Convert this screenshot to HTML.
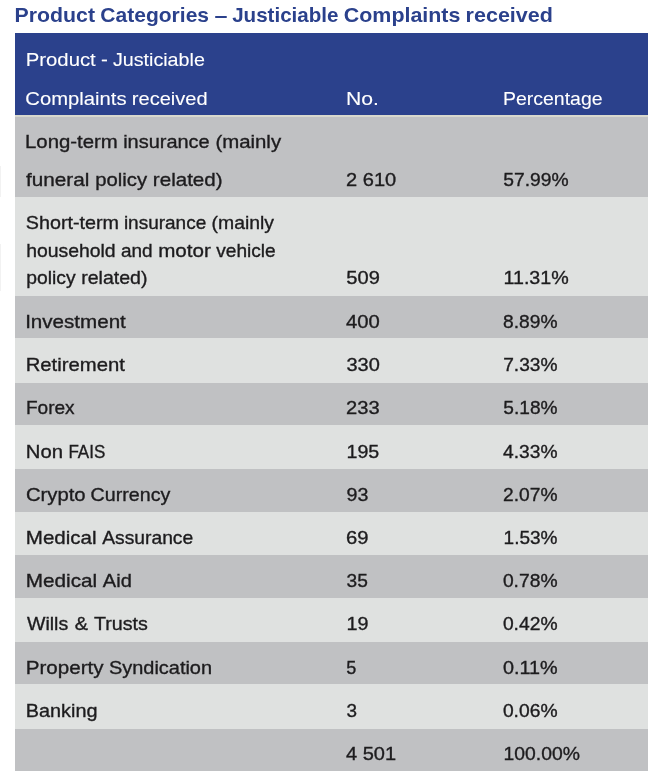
<!DOCTYPE html>
<html lang="en">
<head>
<meta charset="utf-8">
<title>Product Categories – Justiciable Complaints received</title>
<style>
html,body{margin:0;padding:0;background:#fff;}
body{width:660px;height:782px;position:relative;overflow:hidden;font-family:"Liberation Sans",sans-serif;}
p,h1{margin:0;padding:0;font:inherit;}
.t{position:absolute;white-space:nowrap;font-size:18.6px;line-height:21px;height:21px;transform-origin:0 0;color:#1d1c1e;-webkit-text-stroke:0.35px currentColor;}
.w .t{color:#fff;-webkit-text-stroke-width:0.1px;}
.h .t{font-size:21px;line-height:23px;height:23px;font-weight:700;color:#2b418c;-webkit-text-stroke:0;}
body{filter:blur(0.4px);}
.r{position:absolute;left:14.5px;width:633.5px;}
.e{position:absolute;left:0;width:1px;background:#f2f2f2;}
</style>
</head>
<body>
<div class="r" style="top:33.20px;height:737.40px;background:#2b418c"></div>
<div class="r" style="top:115.40px;height:655.20px;background:#c0c1c3"></div>
<div class="r" style="top:196.70px;height:573.90px;background:#dfe1e0"></div>
<div class="r" style="top:295.90px;height:474.70px;background:#c0c1c3"></div>
<div class="r" style="top:338.30px;height:432.30px;background:#dfe1e0"></div>
<div class="r" style="top:382.50px;height:388.10px;background:#c0c1c3"></div>
<div class="r" style="top:425.00px;height:345.60px;background:#dfe1e0"></div>
<div class="r" style="top:468.80px;height:301.80px;background:#c0c1c3"></div>
<div class="r" style="top:511.60px;height:259.00px;background:#dfe1e0"></div>
<div class="r" style="top:554.70px;height:215.90px;background:#c0c1c3"></div>
<div class="r" style="top:597.60px;height:173.00px;background:#dfe1e0"></div>
<div class="r" style="top:642.00px;height:128.60px;background:#c0c1c3"></div>
<div class="r" style="top:684.00px;height:86.60px;background:#dfe1e0"></div>
<div class="r" style="top:728.50px;height:42.10px;background:#c0c1c3"></div>
<div class="r" style="top:115.4px;height:1.4px;background:#d8d8cd"></div>
<div class="e" style="top:166px;height:31px"></div><div class="e" style="top:244px;height:47px"></div>
<h1 class="h"><span class="t" style="left:14px;top:3px;transform:translateX(0.61px) scaleX(1.0132)">Product</span> <span class="t" style="left:100px;top:3px;transform:translateX(0.35px) scaleX(1.0014)">Categories</span> <span class="t" style="left:214px;top:3px;transform:translateX(0.41px) scaleX(1.1084)">–</span> <span class="t" style="left:232px;top:3px;transform:translateX(0.15px) scaleX(0.9798)">Justiciable</span> <span class="t" style="left:343px;top:3px;transform:translateX(0.84px) scaleX(1.0192)">Complaints</span> <span class="t" style="left:465px;top:3px;transform:translateX(0.58px) scaleX(1.0244)">received</span></h1>
<p class="w"><span class="t" style="left:25px;top:49px;transform:translateX(0.66px) scaleX(1.0941)">Product</span> <span class="t" style="left:101px;top:49px;transform:translateX(0.09px) scaleX(1.1092)">-</span> <span class="t" style="left:112px;top:49px;transform:translateX(0.89px) scaleX(1.0595)">Justiciable</span></p>
<p class="w"><span class="t" style="left:25px;top:88px;transform:translateX(0.35px) scaleX(1.0877)">Complaints</span> <span class="t" style="left:131px;top:88px;transform:translateX(0.84px) scaleX(1.0772)">received</span></p>
<p class="w"><span class="t" style="left:345px;top:88px;transform:translateX(0.89px) scaleX(1.1379)">No.</span></p>
<p class="w"><span class="t" style="left:503px;top:88px;transform:translateX(0.03px) scaleX(1.0466)">Percentage</span></p>
<p class="d"><span class="t" style="left:24px;top:131px;transform:translateX(0.99px) scaleX(1.0951)">Long-term</span> <span class="t" style="left:123px;top:131px;transform:translateX(0.13px) scaleX(1.0733)">insurance</span> <span class="t" style="left:215px;top:131px;transform:translateX(0.39px) scaleX(1.0962)">(mainly</span></p>
<p class="d"><span class="t" style="left:25px;top:169px;transform:translateX(0.96px) scaleX(1.1146)">funeral</span> <span class="t" style="left:95px;top:169px;transform:translateX(0.21px) scaleX(1.0911)">policy</span> <span class="t" style="left:152px;top:169px;transform:translateX(0.87px) scaleX(1.1052)">related)</span></p>
<p class="d"><span class="t" style="left:346px;top:169px;transform:translateX(0.05px) scaleX(1.0787)">2 610</span></p>
<p class="d"><span class="t" style="left:503px;top:169px;transform:translateX(0.33px) scaleX(1.0366)">57.99%</span></p>
<p class="d"><span class="t" style="left:25px;top:212px;transform:translateX(0.84px) scaleX(1.0612)">Short-term</span> <span class="t" style="left:123px;top:212px;transform:translateX(0.88px) scaleX(1.0216)">insurance</span> <span class="t" style="left:211px;top:212px;transform:translateX(0.56px) scaleX(1.0419)">(mainly</span></p>
<p class="d"><span class="t" style="left:26px;top:240px;transform:translateX(0.13px) scaleX(1.0426)">household</span> <span class="t" style="left:121px;top:240px;transform:translateX(0.01px) scaleX(1.0196)">and</span> <span class="t" style="left:158px;top:240px;transform:translateX(0.17px) scaleX(1.1088)">motor</span> <span class="t" style="left:216px;top:240px;transform:translateX(0.26px) scaleX(1.0278)">vehicle</span></p>
<p class="d"><span class="t" style="left:26px;top:267px;transform:translateX(0.26px) scaleX(1.0389)">policy</span> <span class="t" style="left:81px;top:267px;transform:translateX(0.17px) scaleX(1.0521)">related)</span></p>
<p class="d"><span class="t" style="left:346px;top:267px;transform:translateX(0.32px) scaleX(1.0798)">509</span></p>
<p class="d"><span class="t" style="left:503px;top:267px;transform:translateX(0.50px) scaleX(1.0572)">11.31%</span></p>
<p class="d"><span class="t" style="left:25px;top:311px;transform:translateX(0.14px) scaleX(1.1073)">Investment</span></p>
<p class="d"><span class="t" style="left:346px;top:311px;transform:translateX(0.03px) scaleX(1.0896)">400</span></p>
<p class="d"><span class="t" style="left:503px;top:311px;transform:translateX(0.06px) scaleX(1.0328)">8.89%</span></p>
<p class="d"><span class="t" style="left:25px;top:354px;transform:translateX(0.70px) scaleX(1.0901)">Retirement</span></p>
<p class="d"><span class="t" style="left:346px;top:354px;transform:translateX(0.46px) scaleX(1.0753)">330</span></p>
<p class="d"><span class="t" style="left:503px;top:354px;transform:translateX(0.22px) scaleX(1.0299)">7.33%</span></p>
<p class="d"><span class="t" style="left:25px;top:397px;transform:translateX(0.89px) scaleX(1.0249)">Forex</span></p>
<p class="d"><span class="t" style="left:346px;top:397px;transform:translateX(0.05px) scaleX(1.0842)">233</span></p>
<p class="d"><span class="t" style="left:503px;top:397px;transform:translateX(0.34px) scaleX(1.0276)">5.18%</span></p>
<p class="d"><span class="t" style="left:25px;top:441px;transform:translateX(0.80px) scaleX(1.0904)">Non</span> <span class="t" style="left:68px;top:441px;transform:translateX(0.41px) scaleX(0.9158)">FAIS</span></p>
<p class="d"><span class="t" style="left:346px;top:441px;transform:translateX(0.52px) scaleX(1.0548)">195</span></p>
<p class="d"><span class="t" style="left:503px;top:441px;transform:translateX(0.03px) scaleX(1.0335)">4.33%</span></p>
<p class="d"><span class="t" style="left:25px;top:484px;transform:translateX(0.88px) scaleX(1.0896)">Crypto</span> <span class="t" style="left:90px;top:484px;transform:translateX(0.56px) scaleX(1.0571)">Currency</span></p>
<p class="d"><span class="t" style="left:346px;top:484px;transform:translateX(0.49px) scaleX(1.0566)">93</span></p>
<p class="d"><span class="t" style="left:503px;top:484px;transform:translateX(0.08px) scaleX(1.0326)">2.07%</span></p>
<p class="d"><span class="t" style="left:25px;top:527px;transform:translateX(0.78px) scaleX(1.1044)">Medical</span> <span class="t" style="left:102px;top:527px;transform:translateX(0.16px) scaleX(1.0366)">Assurance</span></p>
<p class="d"><span class="t" style="left:346px;top:527px;transform:translateX(0.05px) scaleX(1.0857)">69</span></p>
<p class="d"><span class="t" style="left:503px;top:527px;transform:translateX(0.54px) scaleX(1.0237)">1.53%</span></p>
<p class="d"><span class="t" style="left:25px;top:570px;transform:translateX(0.77px) scaleX(1.1140)">Medical</span> <span class="t" style="left:102px;top:570px;transform:translateX(0.81px) scaleX(1.0777)">Aid</span></p>
<p class="d"><span class="t" style="left:346px;top:570px;transform:translateX(0.49px) scaleX(1.0293)">35</span></p>
<p class="d"><span class="t" style="left:502px;top:570px;transform:translateX(0.91px) scaleX(1.0357)">0.78%</span></p>
<p class="d"><span class="t" style="left:26px;top:613px;transform:translateX(0.93px) scaleX(1.0521)">Wills</span> <span class="t" style="left:74px;top:613px;transform:translateX(0.77px) scaleX(1.0638)">&amp;</span> <span class="t" style="left:93px;top:613px;transform:translateX(0.94px) scaleX(1.0567)">Trusts</span></p>
<p class="d"><span class="t" style="left:346px;top:613px;transform:translateX(0.51px) scaleX(1.0624)">19</span></p>
<p class="d"><span class="t" style="left:502px;top:613px;transform:translateX(0.91px) scaleX(1.0357)">0.42%</span></p>
<p class="d"><span class="t" style="left:25px;top:657px;transform:translateX(0.78px) scaleX(1.1057)">Property</span> <span class="t" style="left:108px;top:657px;transform:translateX(0.89px) scaleX(1.0734)">Syndication</span></p>
<p class="d"><span class="t" style="left:346px;top:657px;transform:translateX(0.37px) scaleX(0.9708)">5</span></p>
<p class="d"><span class="t" style="left:502px;top:657px;transform:translateX(0.90px) scaleX(1.0640)">0.11%</span></p>
<p class="d"><span class="t" style="left:25px;top:700px;transform:translateX(0.83px) scaleX(1.0656)">Banking</span></p>
<p class="d"><span class="t" style="left:346px;top:700px;transform:translateX(0.49px) scaleX(1.0162)">3</span></p>
<p class="d"><span class="t" style="left:502px;top:700px;transform:translateX(0.91px) scaleX(1.0357)">0.06%</span></p>
<p class="d"><span class="t" style="left:346px;top:743px;transform:translateX(0.03px) scaleX(1.0758)">4 501</span></p>
<p class="d"><span class="t" style="left:503px;top:743px;transform:translateX(0.52px) scaleX(1.0403)">100.00%</span></p>
</body>
</html>
